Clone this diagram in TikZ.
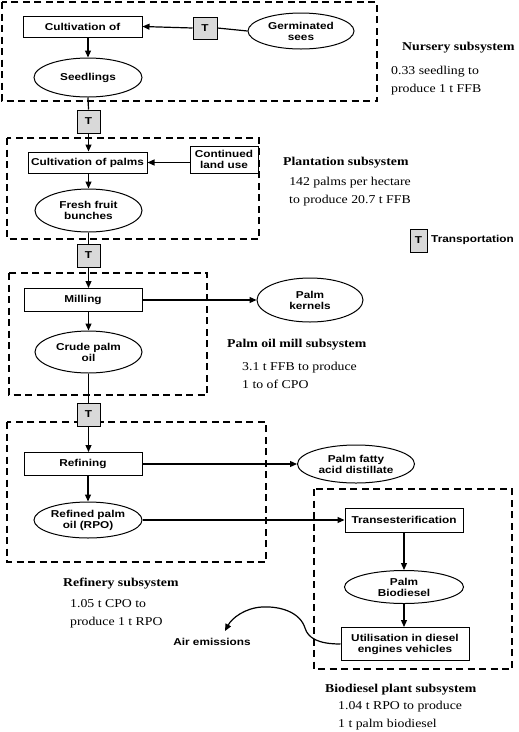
\documentclass[tikz,border=0pt]{standalone}
\usepackage{fontspec}
\setmainfont{Liberation Serif}[FakeStretch=1.15]
\newfontfamily\lbfont{Liberation Sans}[FakeStretch=1.18]
\usetikzlibrary{shapes.geometric,arrows.meta}
\begin{document}
\begin{tikzpicture}[x=1pt,y=-1pt,
  lab/.style={font=\lbfont\bfseries\fontsize{10}{11}\selectfont, align=center, inner sep=0pt},
  rbox/.style={lab, draw, line width=1pt, rectangle},
  ebox/.style={lab, draw, line width=1pt, ellipse},
  tbox/.style={lab, draw, line width=1pt, fill=black!15, minimum width=23pt, minimum height=23pt},
  subsys/.style={draw, line width=1.9pt, dash pattern=on 7pt off 4.5pt},
  conn/.style={line width=1.2pt},
  arr/.style={conn, -{Triangle[length=7pt,width=6pt]}},
  head/.style={font=\bfseries\fontsize{12}{18}\selectfont, inner sep=0pt, anchor=west},
  desc/.style={font=\fontsize{12}{18}\selectfont, inner sep=0pt, anchor=west, align=left},
]
\useasboundingbox (0,0) rectangle (519,732);

% subsystem frames
\draw[subsys] (2,2) rectangle (377,101);
\draw[subsys] (7,138) rectangle (259,239);
\draw[subsys] (9,273) rectangle (207,395);
\draw[subsys] (7,422) rectangle (266,562);
\draw[subsys] (314,489) rectangle (512,669);

% nursery
\node[rbox, minimum width=119pt, minimum height=21pt] (cult1) at (82.5,26.5) {Cultivation of};
\node[tbox, minimum width=24pt, minimum height=22pt] (t1) at (205,28) {T};
\node[ebox, minimum width=106pt, minimum height=36pt] (germ) at (301,31) {Germinated\\sees};
\node[ebox, minimum width=108pt, minimum height=39pt] (seed) at (88,77.5) {Seedlings};
\node[tbox] (t2) at (88.5,121.5) {T};

% plantation
\node[rbox, minimum width=119pt, minimum height=21pt] (cultp) at (87.5,162.5) {Cultivation of palms};
\node[rbox, minimum width=68pt, minimum height=27pt] (land) at (224,159.5) {Continued\\land use};
\node[ebox, minimum width=107pt, minimum height=43pt] (ffb) at (88.5,210.5) {Fresh fruit\\bunches};
\node[tbox] (t3) at (88.5,255.5) {T};

% mill
\node[rbox, minimum width=118pt, minimum height=23pt] (mill) at (83,300) {Milling};
\node[ebox, minimum width=106pt, minimum height=44pt] (kern) at (310,300) {Palm\\kernels};
\node[ebox, minimum width=107pt, minimum height=42pt] (cpo) at (88.5,352) {Crude palm\\oil};
\node[tbox] (t4) at (88.5,414.5) {T};

% refinery
\node[rbox, minimum width=118pt, minimum height=23pt] (ref) at (83,464) {Refining};
\node[ebox, minimum width=117pt, minimum height=38pt] (pfad) at (356,464) {Palm fatty\\acid distillate};
\node[ebox, minimum width=108pt, minimum height=36pt] (rpo) at (88,520) {Refined palm\\oil (RPO)};

% biodiesel
\node[rbox, minimum width=118pt, minimum height=24pt] (trans) at (404,520) {Transesterification};
\node[ebox, minimum width=119pt, minimum height=33pt] (pbd) at (404,587) {Palm\\Biodiesel};
\node[rbox, minimum width=128pt, minimum height=33pt] (util) at (405,644) {Utilisation in diesel\\engines vehicles};
\node[lab] (air) at (212,642) {Air emissions};
\coordinate (airtip) at (225,631);

% legend
\node[tbox, minimum width=17pt, minimum height=23pt] (tleg) at (418.5,240.5) {T};
\node[lab, anchor=west] (tlegtxt) at (431,240) {Transportation};

% connectors
\draw[conn] (germ.west) -- (t1.east);
\draw[arr] (t1.west) -- (cult1.east);
\draw[arr] (cult1.south -| seed.north) -- (seed.north);
\draw[conn] (seed.south) -- (t2.north);
\draw[arr] (t2.south) -- (cultp.north -| t2.south);
\draw[arr] (land.west |- cultp.east) -- (cultp.east);
\draw[arr] (cultp.south -| ffb.north) -- (ffb.north);
\draw[conn] (ffb.south) -- (t3.north);
\draw[arr] (t3.south) -- (mill.north -| t3.south);
\draw[arr] (mill.east |- kern.west) -- (kern.west);
\draw[arr] (mill.south -| cpo.north) -- (cpo.north);
\draw[conn] (cpo.south) -- (t4.north);
\draw[arr] (t4.south) -- (ref.north -| t4.south);
\draw[arr] (ref.east |- pfad.west) -- (pfad.west);
\draw[arr] (ref.south -| rpo.north) -- (rpo.north);
\draw[arr] (rpo.east) -- (trans.west |- rpo.east);
\draw[arr] (trans.south) -- (pbd.north -| trans.south);
\draw[arr] (pbd.south) -- (util.north -| pbd.south);
\draw[arr] (util.west) .. controls (318,644) and (308,638) .. (305,628)
   .. controls (300,612) and (280,606) .. (262,607)
   .. controls (245,608) and (232,618) .. (airtip);

% captions
\node[head] (hn) at (402,48) {Nursery subsystem};
\node[desc] (dn) at (391,81) {0.33 seedling to\\produce 1 t FFB};
\node[head] (hp) at (283,163) {Plantation subsystem};
\node[desc, align=center, anchor=center] (dp) at (350,192) {142 palms per hectare\\to produce 20.7 t FFB};
\node[head] (hm) at (227,345) {Palm oil mill subsystem};
\node[desc] (dm) at (242,375) {3.1 t FFB to produce\\1 to of CPO};
\node[head] (hr) at (63,584) {Refinery subsystem};
\node[desc] (dr) at (70,613.5) {1.05 t CPO to\\produce 1 t RPO};
\node[head] (hb) at (325,690) {Biodiesel plant subsystem};
\node[desc] (db) at (338,716) {1.04 t RPO to produce\\1 t palm biodiesel};
\end{tikzpicture}
\end{document}
